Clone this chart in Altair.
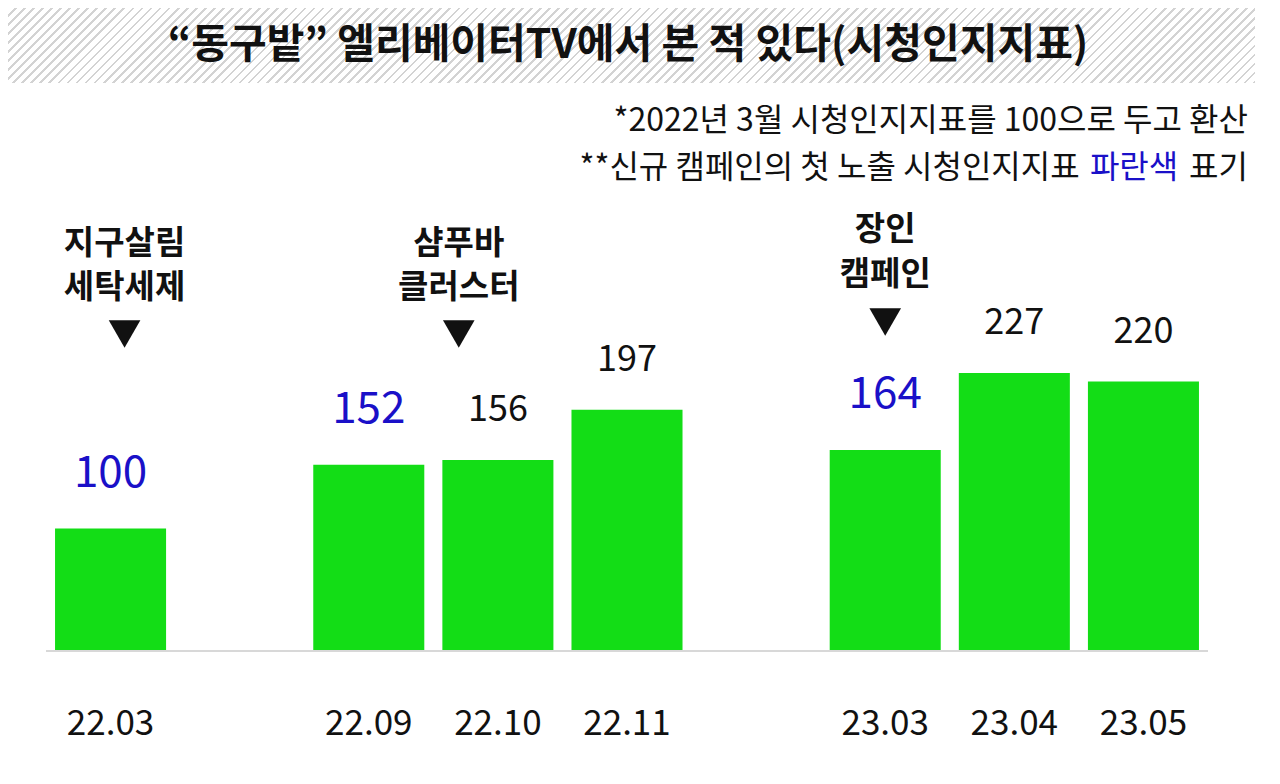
import altair as alt
import pandas as pd

# ---------------- data ----------------
CATS = ["22.03", "22.09", "22.10", "22.11", "23.03", "23.04", "23.05"]
VALUES = [100, 152, 156, 197, 164, 227, 220]
FIRST = [True, True, False, False, True, False, False]   # first exposure of a new campaign (blue)
SLOTS = ["22.03", "gap1", "22.09", "22.10", "22.11", "gap2", "23.03", "23.04", "23.05"]

TITLE = "“동구밭” 엘리베이터TV에서 본 적 있다(시청인지지표)"
NOTE1 = "*2022년 3월 시청인지지표를 100으로 두고 환산"
NOTE2 = ["**신규 캠페인의 첫 노출 시청인지지표", "파란색", "표기"]

ANN_CATS = ["22.03", "22.09", "23.03"]
ANN_LINES = [["지구살림", "세탁세제"], ["샴푸바", "클러스터"], ["장인", "캠페인"]]

# ---------------- style / layout ----------------
GREEN = "#13dd16"
BLUE = "#1a10c8"
BLACK = "#111111"
FONT = "Noto Sans CJK KR"

# plot area: page x 46..1208, page y 161..651 (page has 8px margin)
PL, PT = 38, 153
PW, PH = 1162, 490
PR = 1264 - PL - PW
PB = 768 - PT - PH


def px(page_x):
    return page_x - 8 - PL


def py(page_y):
    return page_y - 8 - PT


ANN_DX = [14, 90, 0]
ANN_Y = [[244, 288, 334], [244, 288, 334], [230, 275, 322]]

xscale = alt.Scale(domain=SLOTS, paddingInner=0.14, paddingOuter=0.07)
yscale = alt.Scale(domain=[0, 400])

df = pd.DataFrame({"cat": CATS, "value": VALUES, "first": FIRST})
X = alt.X("cat:N", scale=xscale, axis=None)
Y = alt.Y("value:Q", scale=yscale, axis=None)

one = pd.DataFrame({"k": [0]})

# hatched title band: diagonal stripes built from a sharp-stop linear gradient
BW, BH = 1247, 75
r = BH / BW
c = (1 + r) / (1 + r * r)
period_px = 9.0
n = int(BW * (1 + r) / period_px)
p = 1.0 / n
stops = []
for i in range(n):
    a = i * p
    stops += [
        alt.GradientStop(color="#ffffff", offset=round(a, 6)),
        alt.GradientStop(color="#ffffff", offset=round(a + 0.7 * p, 6)),
        alt.GradientStop(color="#d3d3d3", offset=round(a + 0.7 * p, 6)),
        alt.GradientStop(color="#d3d3d3", offset=round(min(a + p, 1.0), 6)),
    ]
grad = alt.LinearGradient(gradient="linear", stops=stops,
                          x1=0, y1=0, x2=round(c, 5), y2=round(c * r, 5))

band = alt.Chart(one).mark_rect(fill=grad, strokeWidth=0).encode(
    x=alt.value(px(8)), x2=alt.value(px(8) + BW), y=alt.value(py(8)), y2=alt.value(py(8) + BH))

title = alt.Chart(one).mark_text(
    text=TITLE, font=FONT, fontSize=41, fontWeight="bold", color=BLACK,
    align="center", baseline="middle").encode(x=alt.value(px(628)), y=alt.value(py(46)))

fs = 32
note1 = alt.Chart(one).mark_text(
    text=NOTE1, font=FONT, fontSize=fs, color=BLACK, align="right",
    baseline="middle").encode(x=alt.value(px(1248)), y=alt.value(py(121)))

xr_c = px(1248)
xr_b = xr_c - 2 * fs - 0.18 * fs
xr_a = xr_b - 3 * fs - 0.08 * fs
note2 = []
for txt, xr, col in zip(NOTE2, [xr_a, xr_b, xr_c], [BLACK, BLUE, BLACK]):
    note2.append(alt.Chart(one).mark_text(
        text=txt, font=FONT, fontSize=fs, color=col, align="right",
        baseline="middle").encode(x=alt.value(xr), y=alt.value(py(168))))

base = alt.Chart(df)
bars = base.mark_bar(color=GREEN).encode(x=X, y=Y)

rule = alt.Chart(one).mark_rule(color="#d8d8d8", strokeWidth=2).encode(
    x=alt.value(0), x2=alt.value(PW), y=alt.value(PH))

lab_blue = base.transform_filter("datum.first").mark_text(
    font=FONT, fontSize=44, color=BLUE, baseline="alphabetic", dy=-42).encode(
    x=X, y=Y, text="value:Q")
lab_black = base.transform_filter("!datum.first").mark_text(
    font=FONT, fontSize=36, color=BLACK, baseline="alphabetic", dy=-39).encode(
    x=X, y=Y, text="value:Q")

xlabels = base.mark_text(font=FONT, fontSize=35, color=BLACK, baseline="alphabetic").encode(
    x=X, y=alt.value(py(735)), text="cat:N")

ann_layers = []
for cat, lines, dx, ys in zip(ANN_CATS, ANN_LINES, ANN_DX, ANN_Y):
    adf = pd.DataFrame({"cat": [cat]})
    for line, yy in zip(lines, ys[:2]):
        ann_layers.append(alt.Chart(adf).mark_text(
            text=line, font=FONT, fontSize=33, fontWeight="bold", color=BLACK,
            baseline="middle", dx=dx).encode(x=X, y=alt.value(py(yy))))
    ann_layers.append(alt.Chart(adf).mark_point(
        shape="triangle-down", filled=True, size=1000, color=BLACK, opacity=1,
        strokeWidth=0, xOffset=dx).encode(x=X, y=alt.value(py(ys[2]))))

chart = alt.layer(band, title, note1, *note2, bars, rule, lab_blue, lab_black,
                  xlabels, *ann_layers).properties(
    width=PW, height=PH,
    padding={"left": PL, "top": PT, "right": PR, "bottom": PB},
    autosize=alt.AutoSizeParams(type="none"),
).configure_view(strokeWidth=0)

chart.save("out.html", embed_options={"renderer": "svg", "actions": False})
